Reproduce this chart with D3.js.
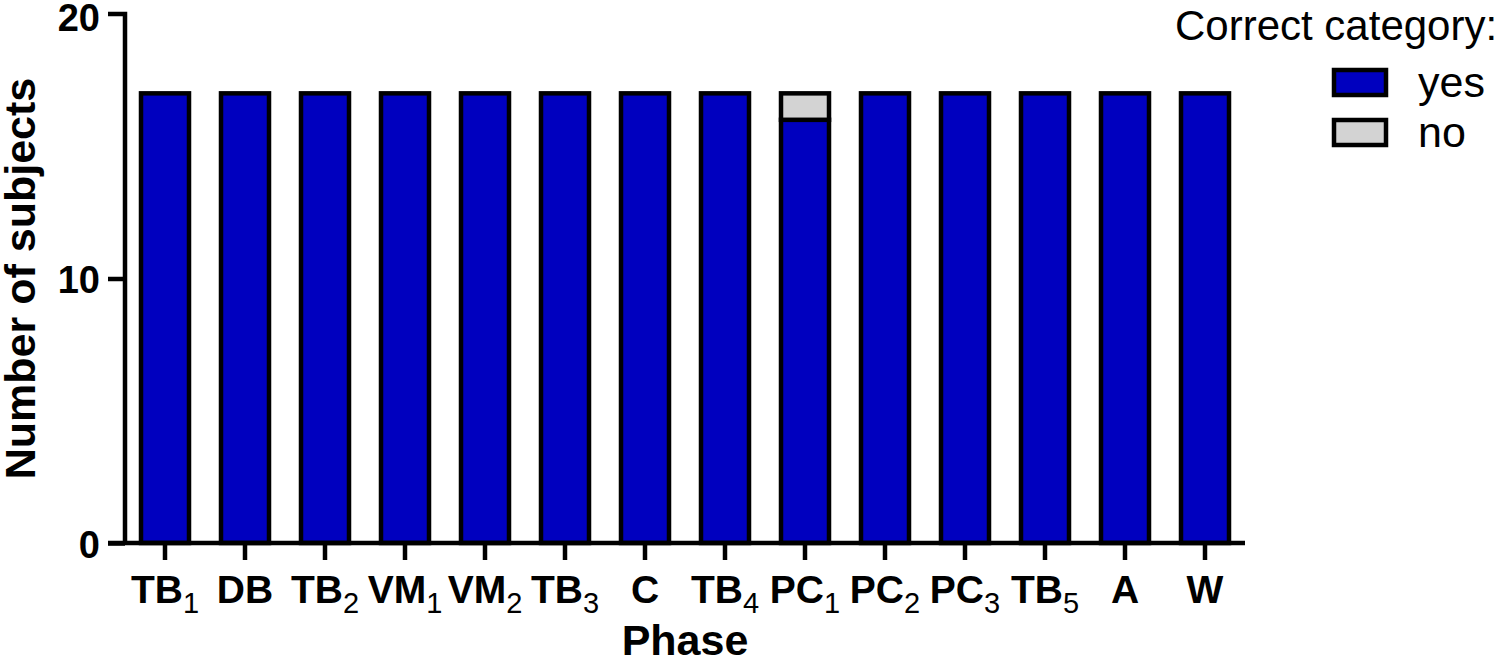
<!DOCTYPE html>
<html>
<head>
<meta charset="utf-8">
<script src="https://cdn.jsdelivr.net/npm/d3@7"></script>
<style>
  html, body { margin: 0; padding: 0; background: #fff; }
  svg { display: block; font-family: "Liberation Sans", Arial, Helvetica, sans-serif; }
</style>
</head>
<body>
<svg id="chart" width="1500" height="662"></svg>
<script>
// ---- data ----
const phaseNames = ["TB", "DB", "TB", "VM", "VM", "TB", "C", "TB", "PC", "PC", "PC", "TB", "A", "W"];
const phaseSubs  = ["1",  "",   "2",  "1",  "2",  "3",  "",  "4",  "1",  "2",  "3",  "5",  "",  ""];
const yesValues  = [17, 17, 17, 17, 17, 17, 17, 17, 16, 17, 17, 17, 17, 17];
const noValues   = [0, 0, 0, 0, 0, 0, 0, 0, 1, 0, 0, 0, 0, 0];
const yTicks     = [0, 10, 20];
const seriesNames = ["yes", "no"];
const seriesColors = ["#0000BF", "#D3D3D3"];

const phases = phaseNames.map((n, i) => n + phaseSubs[i]);
const table = phases.map((p, i) => ({ phase: p, yes: yesValues[i], no: noValues[i] }));

const svg = d3.select("#chart");
const mLeft = 125, mRight = 1245, mTop = 14, mBottom = 543;

const x = d3.scaleBand().domain(phases).range([mLeft, mRight]).paddingInner(0.4).paddingOuter(0.2);
const y = d3.scaleLinear().domain([0, 20]).range([mBottom, mTop]);

const stack = d3.stack().keys(seriesNames)(table);

const color = d3.scaleOrdinal().domain(seriesNames).range(seriesColors);

// bars
svg.append("g").selectAll("g").data(stack).join("g")
  .attr("fill", d => color(d.key))
  .selectAll("rect").data(d => d.filter(s => s[1] - s[0] > 0)).join("rect")
  .attr("x", d => x(d.data.phase))
  .attr("width", x.bandwidth())
  .attr("y", d => y(d[1]))
  .attr("height", d => y(d[0]) - y(d[1]))
  .attr("stroke", "#000")
  .attr("stroke-width", 4.5);

// y axis
const yAxis = svg.append("g")
  .attr("transform", `translate(${mLeft},0)`)
  .call(d3.axisLeft(y).tickValues(yTicks).tickSize(17).tickPadding(8).tickFormat(d3.format("d")));
yAxis.select(".domain").attr("stroke-width", 4.5).attr("d", `M-17,${mTop}H0V${mBottom}`);
yAxis.selectAll(".tick line").attr("stroke-width", 4.5);
yAxis.selectAll(".tick").filter(d => d === 20).select("line").remove();
yAxis.selectAll(".tick text").attr("font-size", 38).attr("font-weight", "bold")
  .attr("font-family", "Liberation Sans, Arial, sans-serif").attr("fill", "#000").attr("dy", "0.37em");
yAxis.selectAll(".tick").filter(d => d === 20).select("text").attr("dy", "0.44em");

// x axis
const xAxis = svg.append("g")
  .attr("transform", `translate(0,${mBottom})`)
  .call(d3.axisBottom(x).tickSize(17).tickPadding(12).tickFormat(""));
xAxis.select(".domain").attr("stroke-width", 4.5).attr("d", `M${mLeft - 17},0H${mRight}`);
xAxis.selectAll(".tick line").attr("stroke-width", 4.5);
xAxis.selectAll(".tick text").each(function(d, i) {
  const t = d3.select(this);
  t.text(null).attr("font-family", "Liberation Sans, Arial, sans-serif").attr("fill", "#000")
    .attr("dy", null).attr("y", 60).attr("text-anchor", "middle");
  t.append("tspan").attr("font-size", 39).attr("font-weight", "bold").text(phaseNames[i]);
  if (phaseSubs[i]) {
    t.append("tspan").attr("font-size", 29).attr("font-weight", "normal").attr("dy", 10).text(phaseSubs[i]);
  }
});

// axis titles
svg.append("text")
  .attr("transform", `translate(35,${(mTop + mBottom) / 2 + 0}) rotate(-90)`)
  .attr("text-anchor", "middle").attr("font-size", 43).attr("font-weight", "bold")
  .text("Number of subjects");
svg.append("text")
  .attr("x", (mLeft + mRight) / 2).attr("y", 655)
  .attr("text-anchor", "middle").attr("font-size", 43).attr("font-weight", "bold")
  .text("Phase");

// legend
const lg = svg.append("g");
lg.append("text").attr("x", 1175).attr("y", 40).attr("font-size", 42).text("Correct category:");
const items = lg.selectAll("g.item").data(seriesNames).join("g").attr("class", "item")
  .attr("transform", (d, i) => `translate(1334,${70 + i * 50})`);
items.append("rect").attr("width", 52).attr("height", 25)
  .attr("fill", d => color(d)).attr("stroke", "#000").attr("stroke-width", 4.5);
items.append("text").attr("x", 84).attr("y", 27).attr("font-size", 43).text(d => d);
</script>
</body>
</html>
